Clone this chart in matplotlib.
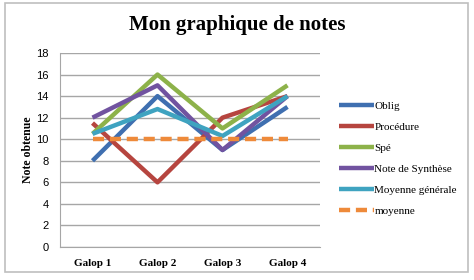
import matplotlib
matplotlib.use("Agg")
import matplotlib.pyplot as plt
from matplotlib.patches import Rectangle

categories = ["Galop 1", "Galop 2", "Galop 3", "Galop 4"]
oblig = [8, 14, 9, 13]
procedure = [11.5, 6, 12, 14]
spe = [10.5, 16, 11, 15]
synthese = [12, 15, 9, 14]
moy_generale = [10.5, 12.8, 10.3, 14]
moyenne = [10, 10, 10, 10]
yticks = [0, 2, 4, 6, 8, 10, 12, 14, 16, 18]

serif = "Liberation Serif"

fig = plt.figure(figsize=(4.74, 2.80), dpi=100)
fig.patch.set_facecolor("white")
fig.patches.append(Rectangle((5/474, 1 - 272/280), 463/474, 269/280,
                             transform=fig.transFigure, fill=False,
                             edgecolor="#BFBFBF", lw=1.2))

ax = fig.add_axes([60/474, 1 - 247/280, 260/474, 194/280])
x = list(range(len(categories)))
series = [
    (oblig, "Oblig", "#3F6FB0"),
    (procedure, "Procédure", "#B6453F"),
    (spe, "Spé", "#8DB24A"),
    (synthese, "Note de Synthèse", "#7153A0"),
    (moy_generale, "Moyenne générale", "#3FA3C0"),
]
for vals, lab, col in series:
    ax.plot(x, vals, color=col, lw=3.2, label=lab, solid_capstyle="butt")
ax.plot(x, moyenne, color="#EE8A3A", lw=3.2, ls=(0, (2.5, 1.3)), label="moyenne",
        dash_capstyle="butt")

ax.set_xlim(-0.5, 3.5)
ax.set_ylim(0, 18)
ax.set_yticks(yticks)
ax.set_xticks(x)
ax.set_xticklabels(categories, fontfamily=serif, fontweight="bold", fontsize=8)
for t in ax.get_yticklabels():
    t.set_fontfamily("Liberation Sans")
    t.set_fontsize(8)
ax.tick_params(axis="y", length=0, pad=8)
ax.tick_params(axis="x", length=0, pad=9)
ax.grid(axis="y", color="#A6A6A6", lw=1)
ax.set_axisbelow(True)
for s in ["top", "right"]:
    ax.spines[s].set_visible(False)
for s in ["left", "bottom"]:
    ax.spines[s].set_color("#A6A6A6")
ax.set_ylabel("Note obtenue", fontfamily=serif, fontweight="bold", fontsize=8.5)
ax.yaxis.set_label_coords(-0.10, 0.5)

fig.text(237/474, 1 - 25/280, "Mon graphique de notes", ha="center", va="center",
         fontfamily=serif, fontweight="bold", fontsize=15)

fig.legend(loc="upper left", bbox_to_anchor=(335/474, 1 - 97/280),
           frameon=False, prop={"family": serif, "size": 8},
           handlelength=3.1, handletextpad=0.05, labelspacing=1.0, borderaxespad=0)

fig.savefig("out.png", dpi=100)
